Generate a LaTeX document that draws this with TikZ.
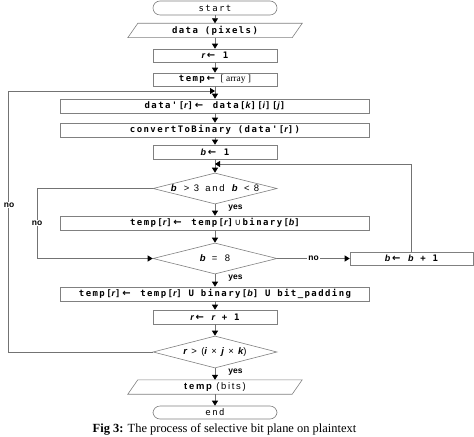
\documentclass[tikz,border=0pt]{standalone}
\usepackage{fontspec}
\setmainfont{Liberation Serif}
\newfontfamily\cf{DejaVu Sans Mono}[LetterSpace=16]
\newfontfamily\sff{Liberation Sans}
\newfontfamily\sfw{Liberation Sans}[LetterSpace=18]
\newfontfamily\symf{DejaVu Sans}
\usetikzlibrary{arrows.meta,shapes.geometric}
\newcommand\la{{\symf\bfseries\fontsize{10}{10}\selectfont\,←\,}}
\newcommand\iv[1]{{\sff\bfseries\itshape #1}}
\tikzset{
  x=1bp, y=-1bp,
  codefont/.style={font=\cf\bfseries\fontsize{9}{10}\selectfont},
  box/.style={draw=black!50, line width=0.6pt, minimum height=14bp, inner sep=0pt, fill=white, codefont},
  narrow/.style={box, minimum width=124bp},
  wide/.style={box, minimum width=309bp},
  dec/.style={box, diamond, aspect=4, minimum width=124bp, minimum height=31bp, font=\sfw\fontsize{9.5}{10}\selectfont},
  term/.style={box, rounded corners=7bp, minimum width=124bp, font=\cf\fontsize{9}{10}\selectfont},
  io/.style={inner sep=0pt, minimum width=164bp, minimum height=14bp, codefont},
  pshape/.style={draw=black!50, line width=0.6pt},
  line/.style={draw=black!55, line width=0.8pt},
  arr/.style={line, -{Triangle[length=5bp,width=6bp,color=black]}},
  lbl/.style={font=\sff\bfseries\fontsize{8.5}{9}\selectfont, inner sep=1pt},
}
\begin{document}
\begin{tikzpicture}
\useasboundingbox (0,0) rectangle (474,437);
% nodes
\node[term] (start) at (215,8) {start};
\node[io] (data) at (215,30.5) {data (pixels)};
\draw[pshape] ([xshift=-5bp]data.south west) -- ([xshift=-5bp]data.south east) -- ([xshift=5bp]data.north east) -- ([xshift=5bp]data.north west) -- cycle;
\node[narrow, minimum height=13bp] (r1) at (215,55.5) {\iv{r}\la\hspace{6bp}1};
\node[narrow, minimum height=13bp] (tmp) at (215,79.5) {temp\la\hspace{4bp}{\rmfamily\mdseries\fontsize{9.5}{10}\selectfont [ array ]}};
\node[wide] (dp) at (215,106) {data'[\iv{r}]\la\hspace{8bp}data[\iv{k}][\iv{i}][\iv{j}]};
\node[wide] (conv) at (215,130) {convertToBinary (data'[\iv{r}])};
\node[narrow] (b1) at (215,152) {\iv{b}\la\hspace{6bp}1};
\node[dec] (d1) at (215,188.5) {\iv{b}\hspace{3bp} > 3\hspace{2bp} and\hspace{3bp} \iv{b}\hspace{2bp} < 8};
\node[wide] (tr) at (215,223) {temp[\iv{r}]\la\hspace{8bp}temp[\iv{r}]\,{\symf\mdseries ∪}\,binary[\iv{b}]};
\node[dec] (d2) at (215,258.5) {\iv{b}\hspace{2bp} = \hspace{3bp}8};
\node[box, minimum width=123bp, minimum height=13bp] (bb) at (411.5,258.5) {\iv{b}\la\hspace{6bp}\iv{b} + 1};
\node[wide] (bp) at (215,294) {temp[\iv{r}]\la\hspace{8bp}temp[\iv{r}] U binary[\iv{b}] U bit\_padding};
\node[narrow] (r2) at (215,317) {\iv{r}\la\hspace{6bp}\iv{r} + 1};
\node[dec, minimum height=32bp] (d3) at (215,352) {\iv{r} > (\iv{i} × \iv{j} × \iv{k})};
\node[io, font=\sfw\fontsize{9.5}{10}\selectfont] (tb) at (215,387) {{\bfseries temp} (bits)};
\draw[pshape] ([xshift=-5bp]tb.south west) -- ([xshift=-5bp]tb.south east) -- ([xshift=5bp]tb.north east) -- ([xshift=5bp]tb.north west) -- cycle;
\node[term, minimum height=13bp] (end) at (215,412.5) {end};
\node[font=\fontsize{12.5}{14}\selectfont, inner sep=0pt] (cap) at (224.5,429) {\textbf{Fig 3:} The process of selective bit plane on plaintext};
% coordinates
\coordinate (j1) at (215,164);
\coordinate (j2) at (215,91);
\coordinate (l1) at (37,258.5);
\coordinate (l2) at (8,91);
% connectors
\draw[arr] (start) -- (data);
\draw[arr] (data) -- (r1);
\draw[arr] (r1) -- (tmp);
\draw[arr] (tmp) -- (dp);
\draw[arr] (dp) -- (conv);
\draw[arr] (conv) -- (b1);
\draw[arr] (b1) -- (d1);
\draw[arr] (d1) -- node[lbl, right=12bp, pos=0.3] (y1) {yes} (tr);
\draw[arr] (tr) -- (d2);
\draw[arr] (d2) -- node[lbl, right=12bp, pos=0.3] (y2) {yes} (bp);
\draw[arr] (bp) -- (r2);
\draw[arr] (r2) -- (d3);
\draw[arr] (d3) -- node[lbl, right=12bp, pos=0.3] (y3) {yes} (tb);
\draw[arr] (tb) -- (end);
\draw[arr] (d1.west) -| (l1) -- (d2.west);
\node[lbl, fill=white] (n1) at (37,223) {no};
\draw[arr] (d2.east) -- node[lbl, fill=white] (n2) {no} (bb.west);
\draw[arr] (bb.north) |- (j1);
\draw[arr] (d3.west) -| (l2) -- (j2);
\node[lbl, fill=white] (n3) at (9,205) {no};
\end{tikzpicture}
\end{document}
